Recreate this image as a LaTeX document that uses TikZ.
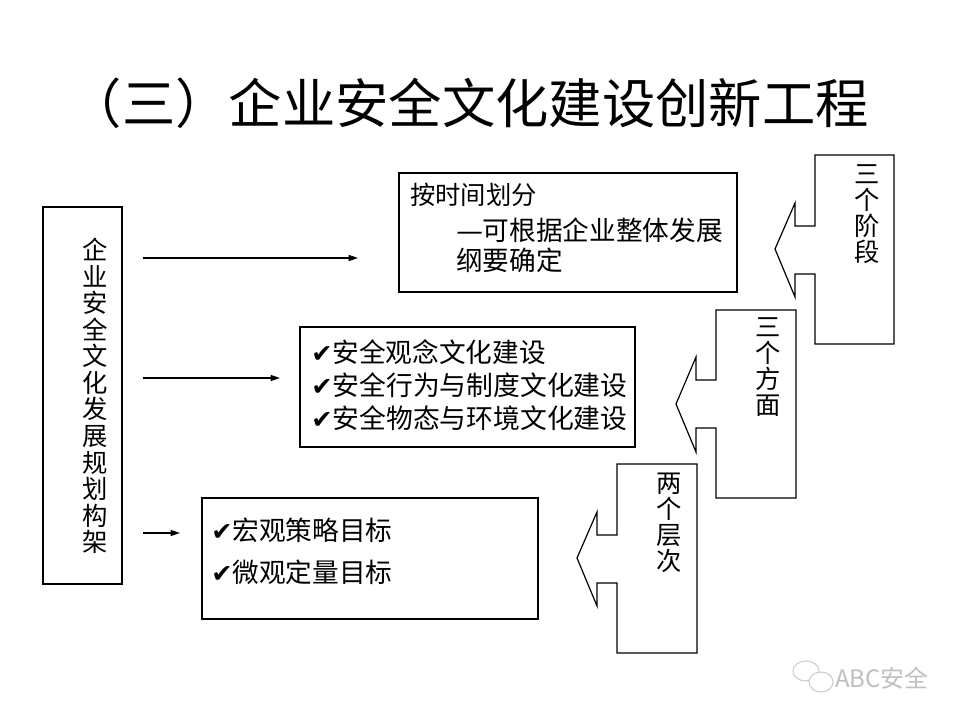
\documentclass[tikz,border=0pt]{standalone}
\usepackage{fontspec}
\newfontfamily\cjk{Noto Sans CJK SC}
\newfontfamily\symf{DejaVu Sans}
\usetikzlibrary{arrows.meta}
\newcommand{\chk}{{\symf\scalebox{0.95}{✔}}}
\tikzset{
  box/.style={draw=black,line width=0.9pt,inner sep=0pt,outer sep=0pt},
  txt/.style={anchor=west,inner sep=0pt,font=\cjk\fontsize{19}{24}\selectfont},
  vtxt/.style={align=center,inner sep=0pt,font=\cjk\fontsize{19}{19.5}\selectfont},
  conn/.style={line width=0.9pt,-{Triangle[length=7pt,width=4.5pt]}},
  callout/.style={draw=black,line width=0.9pt,line join=miter},
}
\begin{document}
\begin{tikzpicture}[x=0.75pt,y=-0.75pt]
\useasboundingbox[fill=white] (0,0) rectangle (960,720);

% title
\node[inner sep=0pt,anchor=east,font=\cjk\fontsize{40}{44}\selectfont] (title) at (869,103) {（三）企业安全文化建设创新工程};

% left frame
\node[box,minimum width=59.25pt,minimum height=282.75pt] (L) at (82.5,395.5) {};
\node[vtxt,font=\cjk\fontsize{19}{19.9}\selectfont] (Ltxt) at (95.5,396) {企\\业\\安\\全\\文\\化\\发\\展\\规\\划\\构\\架};

% top box
\node[box,minimum width=253.5pt,minimum height=89.25pt] (T) at (568,232.5) {};
\node[txt] (t1) at (410,195) {按时间划分};
\node[txt,font=\cjk\fontsize{20}{24}\selectfont] (t2) at (456,230) {{\symf —}可根据企业整体发展};
\node[txt,font=\cjk\fontsize{20}{24}\selectfont] (t3) at (456,260) {纲要确定};

% middle box
\node[box,minimum width=251.25pt,minimum height=90pt] (M) at (467.5,387) {};
\node[txt,font=\cjk\fontsize{20}{24}\selectfont] (m1) at (311,352) {\chk 安全观念文化建设};
\node[txt,font=\cjk\fontsize{20.1}{24}\selectfont] (m2) at (311,385) {\chk 安全行为与制度文化建设};
\node[txt,font=\cjk\fontsize{20.1}{24}\selectfont] (m3) at (311,418) {\chk 安全物态与环境文化建设};

% bottom box
\node[box,minimum width=252pt,minimum height=90.75pt] (B) at (370,558.5) {};
\node[txt,font=\cjk\fontsize{20}{24}\selectfont] (b1) at (211,530) {\chk 宏观策略目标};
\node[txt,font=\cjk\fontsize{20}{24}\selectfont] (b2) at (211,572) {\chk 微观定量目标};

% arrows
\coordinate (a1s) at (143,258); \coordinate (a1e) at (358,258);
\coordinate (a2s) at (143,378); \coordinate (a2e) at (280,378);
\coordinate (a3s) at (143,533); \coordinate (a3e) at (180,533);
\draw[conn] (a1s) -- (a1e);
\draw[conn] (a2s) -- (a2e);
\draw[conn] (a3s) -- (a3e);

% callouts
\draw[callout] (815,155) -- (894,155) -- (894,344) -- (815,344) -- (815,274) -- (795,274) -- (795,297) -- (775,249) -- (795,203) -- (795,226) -- (815,226) -- cycle;
\node[vtxt] (c1) at (867,214) {三\\个\\阶\\段};

\draw[callout] (716,310) -- (796,310) -- (796,498) -- (716,498) -- (716,428) -- (696,428) -- (696,452) -- (676,404) -- (696,357) -- (696,380) -- (716,380) -- cycle;
\node[vtxt] (c2) at (768,367.5) {三\\个\\方\\面};

\draw[callout] (617,464) -- (697,464) -- (697,653) -- (617,653) -- (617,583) -- (597,583) -- (597,606) -- (577,558) -- (597,512) -- (597,535) -- (617,535) -- cycle;
\node[vtxt] (c3) at (669,522.5) {两\\个\\层\\次};

% watermark
\draw[gray!40,line width=0.8pt] (806,671) ellipse [x radius=13,y radius=10];
\draw[gray!40,line width=0.8pt,fill=white] (821,682) ellipse [x radius=12,y radius=10];
\node[inner sep=0pt,anchor=west,text=gray!50,font=\cjk\fontsize{18}{20}\selectfont] (wm) at (835,678) {ABC安全};
\end{tikzpicture}
\end{document}
